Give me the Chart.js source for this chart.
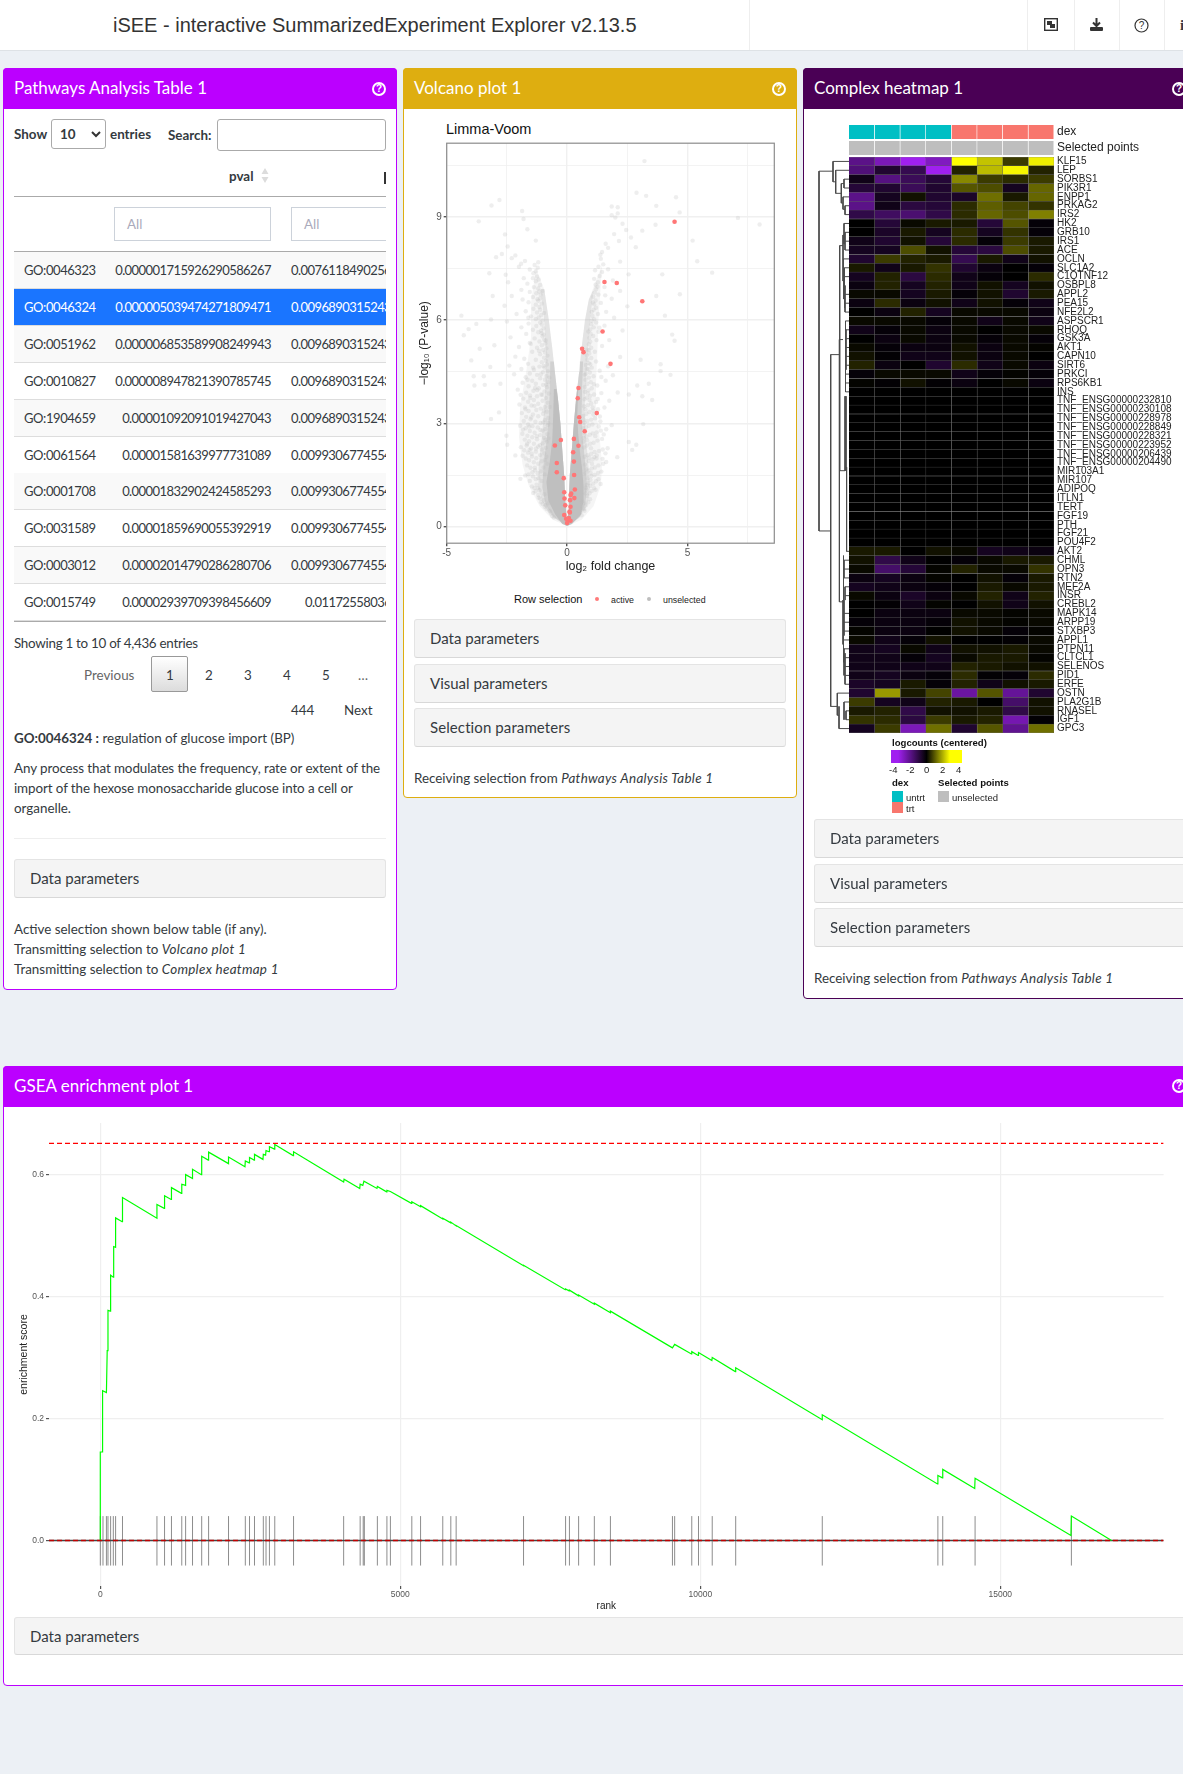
<!DOCTYPE html>
<html><head><meta charset="utf-8">
<script src="https://cdn.jsdelivr.net/npm/chart.js@4/dist/chart.umd.js"></script>
<style>
html,body{margin:0;padding:0;background:#ecf0f5;}
body{width:1183px;height:1774px;overflow:hidden;position:relative;font-family:Lato,sans-serif;font-size:13.4px;color:#343a40;}
.t{position:absolute;transform:translateY(-50%);white-space:nowrap;}
.t i{letter-spacing:.3px;}
.a{position:absolute;}
.panel{position:absolute;background:#fff;border:1px solid;border-radius:4px;box-sizing:border-box;}
.phead{position:absolute;left:-1px;right:-1px;top:-1px;height:41px;border-radius:4px 4px 0 0;color:#fff;font-size:17px;line-height:39px;padding-left:11px;}
.box{position:absolute;background:#f4f4f4;border:1px solid #e4e4e4;border-bottom:1px solid #d8d8d8;border-radius:3px;box-sizing:border-box;}
.q{position:absolute;width:14px;height:14px;border:2px solid #fff;border-radius:50%;box-sizing:border-box;color:#fff;font:bold 10px/10px "Liberation Sans";text-align:center;}
.cv{position:absolute;display:block;}
.ar{font-family:"Liberation Sans";}
.row{position:absolute;left:14px;width:372px;height:37px;overflow:hidden;border-bottom:1px solid #ddd;box-sizing:border-box;}
.num{letter-spacing:-.57px;font-size:13px;}
</style></head><body>
<div class="a" style="left:0;top:0;width:1183px;height:50px;background:#fff;border-bottom:1px solid #dee2e6;box-sizing:content-box"></div>
<div class="a" style="left:749px;top:0;width:1px;height:50px;background:#eee"></div>
<div class="a" style="left:1027px;top:0;width:1px;height:50px;background:#eee"></div>
<div class="a" style="left:1074px;top:0;width:1px;height:50px;background:#eee"></div>
<div class="a" style="left:1119px;top:0;width:1px;height:50px;background:#eee"></div>
<div class="a" style="left:1164px;top:0;width:1px;height:50px;background:#eee"></div>
<div class="t ar" style="left:113px;top:25px;font-size:20px;color:#333">iSEE - interactive SummarizedExperiment Explorer v2.13.5</div>
<svg class="a" style="left:1044px;top:18px" width="14" height="14"><rect x="0.7" y="0.7" width="12.6" height="11.6" fill="none" stroke="#333" stroke-width="1.4"/><rect x="3" y="3" width="5" height="4" fill="#333"/><rect x="6" y="6" width="5" height="4" fill="#333"/></svg>
<svg class="a" style="left:1089px;top:17px" width="15" height="15"><path d="M7.5 1v7M4 5.5l3.5 3.5 3.5-3.5" stroke="#333" stroke-width="2" fill="none"/><rect x="1" y="10" width="13" height="4" rx="1" fill="#333"/></svg>
<svg class="a" style="left:1134px;top:18px" width="15" height="15"><circle cx="7.5" cy="7.5" r="6.5" fill="none" stroke="#333" stroke-width="1.2"/><text x="7.5" y="11" font-size="10" text-anchor="middle" font-family="Liberation Sans" fill="#333">?</text></svg>
<div class="t ar" style="left:1180px;top:25px;font-size:15px;font-weight:bold;font-family:'Liberation Serif'">i</div>

<!-- Pathways panel -->
<div class="panel" style="left:3px;top:68px;width:394px;height:922px;border-color:#bb00ff"><div class="phead" style="background:#bb00ff">Pathways Analysis Table 1</div></div>
<div class="q" style="left:372px;top:82px"><span>?</span></div>
<b class="t" style="left:14px;top:134px">Show</b>
<div class="a" style="left:51px;top:119px;width:55px;height:30px;border:1px solid #aaa;border-radius:3px;box-sizing:border-box"></div>
<b class="t" style="left:60px;top:134px">10</b>
<svg class="a" style="left:91px;top:131px" width="10" height="7"><path d="M1 1l4 4 4-4" stroke="#333" stroke-width="2" fill="none"/></svg>
<b class="t" style="left:110px;top:134px">entries</b>
<b class="t" style="left:168px;top:135px">Search:</b>
<div class="a" style="left:217px;top:119px;width:169px;height:32px;border:1px solid #aaa;border-radius:3px;box-sizing:border-box;background:#fff"></div>
<b class="t" style="left:229px;top:176px">pval</b>
<svg class="a" style="left:261px;top:167px" width="8" height="17"><path d="M4 1l3.5 6h-7zM4 16l3.5-6h-7z" fill="#dcdcdc"/></svg>
<div class="a" style="left:384px;top:172px;width:2px;height:12px;background:#333"></div>
<div class="a" style="left:14px;top:196px;width:372px;height:1px;background:#aaa"></div>
<div class="a" style="left:114px;top:207px;width:157px;height:34px;border:1px solid #ccd2da;box-sizing:border-box"></div>
<div class="a" style="left:291px;top:207px;width:95px;height:34px;border:1px solid #ccd2da;border-right:0;box-sizing:border-box"></div>
<div class="t" style="left:127px;top:224px;color:#aab">All</div>
<div class="t" style="left:304px;top:224px;color:#aab">All</div>
<div class="a" style="left:14px;top:251px;width:372px;height:1px;background:#aaa"></div>
<div id="rows"></div>
<div class="a" style="left:14px;top:621px;width:372px;height:1px;background:#aaa"></div>
<div class="t" style="left:14px;top:643px;letter-spacing:-.28px">Showing 1 to 10 of 4,436 entries</div>
<div class="t" style="left:84px;top:675px;color:#666">Previous</div>
<div class="a" style="left:151px;top:656px;width:37px;height:36px;border:1px solid #999;border-radius:2px;box-sizing:border-box;background:linear-gradient(#fff,#dcdcdc)"></div>
<div class="t" style="left:166px;top:675px">1</div><div class="t" style="left:205px;top:675px">2</div><div class="t" style="left:244px;top:675px">3</div><div class="t" style="left:283px;top:675px">4</div><div class="t" style="left:322px;top:675px">5</div><div class="t" style="left:358px;top:675px;color:#666">…</div>
<div class="t" style="left:291px;top:710px">444</div><div class="t" style="left:344px;top:710px">Next</div>
<div class="t" style="left:14px;top:738px"><b>GO:0046324 :</b> regulation of glucose import (BP)</div>
<div class="t" style="left:14px;top:768px;letter-spacing:-.09px">Any process that modulates the frequency, rate or extent of the</div>
<div class="t" style="left:14px;top:788px;letter-spacing:-.09px">import of the hexose monosaccharide glucose into a cell or</div>
<div class="t" style="left:14px;top:808px">organelle.</div>
<div class="a" style="left:14px;top:838px;width:372px;height:1px;background:#eee"></div>
<div class="box" style="left:14px;top:859px;width:372px;height:39px"></div>
<div class="t" style="left:30px;top:878px;font-size:15px">Data parameters</div>
<div class="t" style="left:14px;top:929px">Active selection shown below table (if any).</div>
<div class="t" style="left:14px;top:949px">Transmitting selection to <i>Volcano plot 1</i></div>
<div class="t" style="left:14px;top:969px">Transmitting selection to <i>Complex heatmap 1</i></div>

<!-- Volcano panel -->
<div class="panel" style="left:403px;top:68px;width:394px;height:730px;border-color:#deae10"><div class="phead" style="background:#deae10">Volcano plot 1</div></div>
<div class="q" style="left:772px;top:82px"><span>?</span></div>
<div class="t ar" style="left:446px;top:129px;font-size:14.5px;color:#111">Limma-Voom</div>
<canvas id="volcano" class="cv" style="left:404px;top:132px" width="392" height="450"></canvas>
<div class="t ar" style="left:514px;top:599px;font-size:11px;color:#111">Row selection</div>
<div class="a" style="left:595px;top:597px;width:4px;height:4px;border-radius:50%;background:#ff7a7a"></div>
<div class="t ar" style="left:611px;top:600px;font-size:8.8px;color:#222">active</div>
<div class="a" style="left:647px;top:597px;width:4px;height:4px;border-radius:50%;background:#bebebe"></div>
<div class="t ar" style="left:663px;top:600px;font-size:8.8px;color:#222">unselected</div>
<div class="box" style="left:414px;top:619px;width:372px;height:39px"></div><div class="t" style="left:430px;top:638px;font-size:15px">Data parameters</div>
<div class="box" style="left:414px;top:664px;width:372px;height:39px"></div><div class="t" style="left:430px;top:683px;font-size:15px">Visual parameters</div>
<div class="box" style="left:414px;top:708px;width:372px;height:39px"></div><div class="t" style="left:430px;top:727px;font-size:15px;letter-spacing:.1px">Selection parameters</div>
<div class="t" style="left:414px;top:778px">Receiving selection from <i>Pathways Analysis Table 1</i></div>

<!-- Heatmap panel -->
<div class="panel" style="left:803px;top:68px;width:500px;height:931px;border-color:#4a0055"><div class="phead" style="background:#4a0055">Complex heatmap 1</div></div>
<div class="q" style="left:1172px;top:82px"><span>?</span></div>
<canvas id="annot" class="cv" style="left:849px;top:124px" width="334" height="32"></canvas>
<canvas id="dendro" class="cv" style="left:818px;top:157px" width="31" height="576"></canvas>
<canvas id="heat" class="cv" style="left:849px;top:152px" width="334" height="586"></canvas>
<b class="t ar" style="left:892px;top:742px;font-size:9.6px;color:#111">logcounts (centered)</b>
<div class="a" id="cbar" style="left:891px;top:750px;width:71px;height:13px;background:linear-gradient(to right,#a020f0 0,#a020f0 10%,#000 50%,#ff0 83%,#ff0 100%)"></div>
<div class="t ar" style="left:889px;top:769px;font-size:9.5px;color:#222">-4</div><div class="t ar" style="left:906px;top:769px;font-size:9.5px;color:#222">-2</div><div class="t ar" style="left:924px;top:769px;font-size:9.5px;color:#222">0</div><div class="t ar" style="left:940px;top:769px;font-size:9.5px;color:#222">2</div><div class="t ar" style="left:956px;top:769px;font-size:9.5px;color:#222">4</div>
<b class="t ar" style="left:892px;top:782px;font-size:9.6px;color:#111">dex</b>
<b class="t ar" style="left:938px;top:782px;font-size:9.6px;color:#111">Selected points</b>
<div class="a" style="left:892px;top:791px;width:11px;height:11px;background:#00bfc4"></div>
<div class="a" style="left:892px;top:802px;width:11px;height:11px;background:#f8766d"></div>
<div class="a" style="left:938px;top:791px;width:11px;height:11px;background:#bebebe"></div>
<div class="t ar" style="left:906px;top:797px;font-size:9.5px;color:#222">untrt</div>
<div class="t ar" style="left:906px;top:808px;font-size:9.5px;color:#222">trt</div>
<div class="t ar" style="left:952px;top:797px;font-size:9.5px;color:#222">unselected</div>
<div class="box" style="left:814px;top:819px;width:480px;height:39px"></div><div class="t" style="left:830px;top:838px;font-size:15px">Data parameters</div>
<div class="box" style="left:814px;top:864px;width:480px;height:39px"></div><div class="t" style="left:830px;top:883px;font-size:15px">Visual parameters</div>
<div class="box" style="left:814px;top:908px;width:480px;height:39px"></div><div class="t" style="left:830px;top:927px;font-size:15px;letter-spacing:.1px">Selection parameters</div>
<div class="t" style="left:814px;top:978px">Receiving selection from <i>Pathways Analysis Table 1</i></div>

<!-- GSEA panel -->
<div class="panel" style="left:3px;top:1066px;width:1300px;height:620px;border-color:#bb00ff"><div class="phead" style="background:#bb00ff">GSEA enrichment plot 1</div></div>
<div class="q" style="left:1172px;top:1079px"><span>?</span></div>
<canvas id="gsea" class="cv" style="left:14px;top:1112px" width="1169" height="504"></canvas>
<div class="box" style="left:14px;top:1617px;width:1280px;height:38px"></div>
<div class="t" style="left:30px;top:1636px;font-size:15px">Data parameters</div>

<script>
// ---------- table ----------
const tableIds=["GO:0046323","GO:0046324","GO:0051962","GO:0010827","GO:1904659","GO:0061564","GO:0001708","GO:0031589","GO:0003012","GO:0015749"];
const tablePval=["0.000001715926290586267","0.000005039474271809471","0.000006853589908249943","0.000008947821390785745","0.00001092091019427043","0.00001581639977731089","0.00001832902424585293","0.00001859690055392919","0.00002014790286280706","0.00002939709398456609"];
const tablePadj=["0.00761184902560","0.00968903152431","0.00968903152431","0.00968903152431","0.00968903152431","0.00993067745541","0.00993067745541","0.00993067745541","0.00993067745541","0.01172558036"];

// ---------- volcano ----------
const volcanoActive=[4.46,8.86,1.55,7.11,2.06,7.08,3.12,6.55,1.47,5.67,.62,5.17,.68,5.07,1.8,4.73,.47,4.03,.44,3.73,1.23,3.3,.5,3.18,.54,3.04,.73,2.77,.28,2.55,-.26,2.52,-.51,2.36,.47,2.35,.25,2.16,.28,1.89,-.43,1.85,-.43,1.58,.29,1.5,-.14,1.41,.32,1.08,-.12,1,.17,.96,.14,.92,-.11,.82,.3,.83,.12,.77,-.08,.62,.14,.58,.1,.44,.11,.41,-.12,.34,.07,.25,-.04,.23,.03,.2,.14,.17,0,.11];
const volcanoGreyLeft=[-.62,.31,-.71,.44,-.55,.27,-.85,.52,-.93,.58,-.74,.47,-1.02,.66,-1.08,.71,-.97,.77,-1.18,.84,-.9,.63,-1.2,.92,-1.31,1.03,-1.36,1.12,-1.15,1.06,-1.27,1.22,-1.46,1.17,-1.55,1.33,-1.3,1.38,-1.42,1.46,-1.6,1.52,-1.44,1.58,-1.22,1.55,-1.74,1.49,-1.33,1.64,-1.08,1.61,-.98,1.72,-1.52,1.71,-1.66,1.78,-1.2,1.83,-1.38,1.87,-1.05,1.9,-.92,1.94,-1.58,1.93,-1.72,1.98,-1.28,1.99,-1.85,2.06,-1.46,2.04,-1.12,2.08,-.95,2.13,-1.62,2.15,-1.3,2.18,-1.78,2.22,-1.05,2.24,-.88,2.29,-1.5,2.27,-1.2,2.33,-1.68,2.36,-1.92,2.31,-1.38,2.41,-1.02,2.42,-.84,2.47,-1.58,2.48,-1.76,2.53,-1.25,2.54,-.96,2.58,-1.45,2.6,-1.65,2.64,-1.12,2.66,-.82,2.69,-1.86,2.7,-1.35,2.73,-1.55,2.78,-1.02,2.79,-.9,2.84,-1.72,2.86,-1.22,2.88,-1.44,2.92,-1.95,2.93,-.8,2.95,-1.62,2.97,-1.1,3.01,-1.32,3.05,-1.8,3.07,-.92,3.1,-1.52,3.12,-.78,3.16,-1.7,3.19,-1.2,3.21,-1.42,3.26,-1,3.28,-1.88,3.3,-.84,3.34,-1.6,3.36,-1.28,3.39,-1.1,3.43,-1.75,3.46,-.92,3.48,-1.48,3.52,-1.98,3.55,-1.2,3.57,-.8,3.6,-1.62,3.63,-1.02,3.66,-1.38,3.68,-1.82,3.72,-.88,3.74,-1.25,3.79,-1.54,3.81,-1.08,3.84,-.76,3.87,-1.7,3.89,-.94,3.93,-1.4,3.95,-2.05,3.98,-1.18,4.02,-.84,4.05,-1.6,4.08,-1,4.12,-1.3,4.15,-1.85,4.18,-.78,4.2,-1.45,4.24,-.92,4.27,-1.12,4.31,-1.72,4.34,-.86,4.38,-1.25,4.41,-2.2,4.43,-1.55,4.45,-1,4.49,-.8,4.52,-1.38,4.56,-1.9,4.58,-.94,4.62,-1.15,4.65,-2.4,4.68,-.84,4.71,-1.62,4.73,-1.05,4.78,-.88,4.82,-1.3,4.85,-1.78,4.88,-.96,4.91,-2.15,4.94,-.82,4.97,-1.12,5.01,-.92,5.06,-1.45,5.08,-1,5.13,-.86,5.18,-1.25,5.2,-2,5.22,-1.05,5.27,-.9,5.32,-1.55,5.34,-1.15,5.38,-.95,5.43,-1.35,5.47,-2.35,5.5,-1.02,5.53,-.98,5.58,-1.7,5.6,-1.2,5.65,-1.08,5.69,-1.42,5.72,-.98,5.76,-1.9,5.79,-1.28,5.83,-1.05,5.87,-1.6,5.9,-1.12,5.93,-2.5,5.96,-1.02,5.99,-1.3,6.03,-1.18,6.08,-1.5,6.11,-1.08,6.15,-2.1,6.18,-1.25,6.22,-1.72,6.26,-1.12,6.3,-1.4,6.33,-1.15,6.38,-2.6,6.42,-1.3,6.45,-1.05,6.48,-1.6,6.52,-1.2,6.56,-1.85,6.6,-1.12,6.63,-1.42,6.67,-2.3,6.7,-1.1,6.74,-1.28,6.78,-1.55,6.82,-1.02,6.85,-1.9,6.88,-1.2,6.92,-1.38,6.96,-1.12,7.02,-1.65,7.06,-2.45,7.1,-1.3,7.13,-1.18,7.18,-1.8,7.22,-1.25,7.27,-2.55,7.32,-1.4,7.36,-1.3,7.42,-1.55,7.47,-1.22,7.52,-2,7.55,-1.35,7.6,-1.2,7.68,-1.75,7.72,-2.3,7.8];
const volcanoGreyRight=[.6,.33,.72,.46,.66,.55,.78,.62,.88,.71,.95,.8,.7,.68,.84,.89,.93,.97,1.02,1.04,1.12,1.12,.8,1.08,.96,1.18,1.08,1.25,1.2,1.32,1.3,1.38,.85,1.41,1,1.47,1.14,1.5,1.28,1.56,1.42,1.6,.76,1.55,.88,1.63,1.02,1.69,1.15,1.72,1.3,1.78,1.5,1.83,1.62,1.88,.74,1.8,.9,1.91,1.06,1.95,1.22,1.98,.72,2.03,.85,2.08,1,2.12,1.14,2.17,1.32,2.2,1.48,2.24,1.68,2.28,.7,2.3,.82,2.36,.96,2.41,1.1,2.44,1.26,2.5,1.45,2.55,.68,2.58,.8,2.62,.94,2.67,1.06,2.71,1.22,2.74,1.4,2.79,1.62,2.83,.66,2.86,.78,2.89,.9,2.93,1.05,2.97,1.85,2.95,.72,3.02,.84,3.07,1,3.11,1.16,3.15,1.36,3.2,.68,3.22,.8,3.28,.92,3.33,1.08,3.37,1.28,3.41,1.55,3.46,.7,3.5,.86,3.53,1,3.58,1.2,3.62,1.75,3.66,.72,3.7,.82,3.75,.96,3.8,1.12,3.84,1.42,3.88,.74,3.92,.88,3.96,2.1,3.9,1.02,4.02,.74,4.06,1.25,4.1,.84,4.15,.98,4.2,1.6,4.24,.76,4.27,.9,4.33,1.1,4.37,1.9,4.4,.78,4.44,.94,4.48,1.35,4.53,.82,4.58,1.02,4.62,1.7,4.66,.78,4.7,.9,4.75,1.2,4.8,.84,4.85,1,4.9,2.2,4.93,.82,4.97,.92,5.03,1.15,5.08,.84,5.14,1,5.2,1.45,5.25,.9,5.3,.96,5.37,1.75,5.42,.92,5.48,1.08,5.54,.98,5.6,1.3,5.66,2.3,5.7,.96,5.73,1.1,5.79,1.55,5.84,1,5.88,1.2,5.93,1.02,5.98,1.12,6.03,1.95,6.07,1.05,6.12,1.28,6.18,1.62,6.24,1.1,6.3,1.2,6.36,2.5,6.4,1.12,6.46,1.4,6.5,1.18,6.57,1.85,6.62,1.08,6.68,1.3,6.74,1.15,6.8,2.2,6.85,1.2,6.9,1.55,6.96,1.18,7.03,1.28,7.1,1.9,7.15,1.12,7.2,1.35,7.28,2.55,7.33,1.45,7.4,1.7,7.48,1.3,7.55,1.5,7.62,2.2,7.7,1.4,7.78,1.38,7.9,1.45,7.98,1.7,8.1,2.85,8.12,1.6,8.22,2.15,8.3,2.65,8.4,1.95,8.5,2.45,8.62,2.3,8.8,2,8.98,2.1,9.1,1.85,9.05,2.1,9.28,1.85,9.3];
const volcanoGreyOuter=[3.21,10.62,2.88,9.7,3.28,9.61,4.52,9.57,3.7,9.32,4.67,9.13,7.09,8.97,7.99,8.78,3.67,8.77,3.12,8.6,5.21,8.31,5.4,7.71,6.02,7.38,-3.14,9.33,-2.81,9.49,-3.67,8.87,-1.87,9.17,-1.81,8.94,-2.58,8.49,-1.65,8.64,-1.3,8.31,-2.47,8.14,-2.95,7.83,-2.15,7.88,-2.71,7.92,-3.23,7.36,-1.91,7.64,-4.39,6.13,-4.29,5.56,-4.09,5.74,-3.77,5.89,-3.63,5.17,-3.98,4.83,-3.88,4.37,-3.85,4.1,-3.46,4.37,-3.42,4.12,-3.19,4.64,-3.16,6.02,-3.09,6.7,-3.02,5.27,-3.16,3.13,-2.83,3.32,-2.77,4.15,-2.52,2.64,-2.49,2.38,-2.15,2.07,-1.94,1.39,4.68,6.75,4.06,6.13,3.7,6.7,3.95,7.33,4.36,5.58,4.46,5.4,4.29,4.41,3.88,4.52,3.88,4.72,3.05,4.85,2.91,4.1,3.12,3.79,3.53,3.68,3.39,4.15,2.56,3.84,3.16,2.98,2.56,2.46,2.7,2.23,2.87,2.38,2.08,2.02,1.39,1.24];
const volcanoGreyExtra=[-1.13,2.37,-1.57,2.91,-.97,3.37,-1.34,1.71,-.86,2.03,-1.73,3.41,-1.09,4.43,-1.49,3.17,-.74,4.33,-1.26,2.63,-.93,1.52,-1.66,2.41,-1.03,3.83,-1.41,4.62,-.89,5.41,-1.19,1.41,-1.53,3.74,-.79,3.02,-1.11,2.81,-1.83,2.82,-.98,4.67,-1.36,3.51,-.83,1.83,-1.24,3.97,-1.06,1.33,-1.64,4.27,-.91,2.52,-1.47,2.12,-.77,2.57,-1.17,5.11,-1.33,4.03,-.96,6.21,-1.06,5.62,-1.51,5.31,-.87,4.13,-1.23,6.61,-1.42,7.22,-1.16,6.83,-1.61,6.07,-.99,3.03,-1.29,2.27,-.72,3.48,-1.93,3.83,-1.56,2.23,-1.21,1.12,-.94,.94,-.79,.68,-1.41,.98,-1.12,.82,-.67,.38,.89,1.27,1.17,2.63,.76,3.41,1.03,1.83,.67,2.47,1.31,2.91,.93,3.68,1.47,1.97,.81,1.21,1.09,3.26,.73,2.71,1.23,2.07,.87,4.58,1.38,3.06,.99,2.28,.69,3.11,1.52,2.68,.79,1.67,1.11,4.14,.83,2.51,1.27,3.71,.91,5.13,.97,1.36,1.18,1.07,1.59,2.13,.75,.97,1.06,3.46,.86,3.87,1.42,4.35,.96,4.72,1.13,2.02,.73,4.41,1.22,5.42,.88,5.67,1.02,6.24,1.34,5.78,1.07,6.51,1.26,6.97,1.16,7.45,1.58,6.72,.92,2.01,.78,1.13,.62,.74,.98,1.56,.71,.51];
// outlines of the regions where points overlap into a solid mass
const coreLeft=[0,.02,-.04,.4,-.08,.8,-.125,1.5,-.2,2.2,-.28,3,-.38,3.7,-.44,4,-.55,4,-.58,3.2,-.62,2.5,-.72,1.9,-.86,1.3,-.78,.75,-.5,.36,-.2,.08,0,.02];
const coreRight=[0,.02,.04,.4,.07,.8,.11,1.5,.19,2.2,.28,3,.37,3.7,.41,4,.46,4,.42,3.2,.46,2.7,.53,2.2,.62,1.7,.68,1.2,.68,.75,.58,.36,.2,.08,0,.02];
const denseLeft=[0,.02,-.04,.4,-.08,.8,-.125,1.5,-.2,2.2,-.28,3,-.38,3.7,-.51,4.5,-.55,4.8,-.7,4.8,-.72,4,-.76,3.2,-.85,2.5,-.98,1.8,-1.03,1.15,-.9,.65,-.55,.28,0,.02];
const denseRight=[0,.02,.04,.4,.07,.8,.11,1.5,.19,2.2,.28,3,.37,3.7,.5,4.5,.53,4.8,.66,4.8,.62,4,.6,3.3,.64,2.6,.74,1.9,.82,1.2,.76,.68,.52,.28,0,.02];
const midLeft=[0,.02,-.04,.4,-.08,.8,-.125,1.5,-.2,2.2,-.28,3,-.38,3.7,-.51,4.5,-.62,5.2,-.76,6,-.95,6.9,-1.1,6.9,-.95,6,-.88,5,-.9,4.2,-.95,3.4,-1.05,2.6,-1.18,1.8,-1.2,1.1,-.95,.6,-.55,.25,0,.02];
const midRight=[0,.02,.04,.4,.07,.8,.11,1.5,.19,2.2,.28,3,.37,3.7,.5,4.5,.6,5.2,.74,6,.9,6.6,1.1,6.9,.95,6,.85,5,.78,4.2,.72,3.4,.78,2.6,.88,1.8,.95,1.1,.82,.6,.5,.25,0,.02];
const haloLeft=[0,.02,-.04,.4,-.08,.8,-.125,1.5,-.2,2.2,-.28,3,-.38,3.7,-.51,4.5,-.62,5.2,-.76,6,-.95,6.9,-1.3,7.5,-1.5,6.5,-1.5,5.5,-1.7,4.5,-1.95,3.5,-2,2.6,-1.85,1.8,-1.6,1.2,-1.15,.6,-.6,.2,0,.02];
const haloRight=[0,.02,.04,.4,.07,.8,.11,1.5,.19,2.2,.28,3,.37,3.7,.5,4.5,.6,5.2,.74,6,.9,6.6,1.45,7.6,1.3,6,1.25,5,1.2,4.2,1.2,3.4,1.35,2.6,1.45,1.8,1.4,1.2,1.1,.6,.6,.2,0,.02];

// ---------- heatmap ----------
const heatLabels=["KLF15","LEP","SORBS1","PIK3R1","ENPP1","PRKAG2","IRS2","HK2","GRB10","IRS1","ACE","OCLN","SLC1A2","C1QTNF12","OSBPL8","APPL2","PEA15","NFE2L2","ASPSCR1","RHOQ","GSK3A","AKT1","CAPN10","SIRT6","PRKCI","RPS6KB1","INS","TNF_ENSG00000232810","TNF_ENSG00000230108","TNF_ENSG00000228978","TNF_ENSG00000228849","TNF_ENSG00000228321","TNF_ENSG00000223952","TNF_ENSG00000206439","TNF_ENSG00000204490","MIR103A1","MIR107","ADIPOQ","ITLN1","TERT","FGF19","PTH","FGF21","POU4F2","AKT2","CHML","OPN3","RTN2","MEF2A","INSR","CREBL2","MAPK14","ARPP19","STXBP3","APPL1","PTPN11","CLTCL1","SELENOS","PID1","ERFE","OSTN","PLA2G1B","RNASEL","IGF1","GPC3"];
const heatValuesTop=[[-1.7,-2.3,-3,-2.4,3,2.3,.7,2.8],[-1.5,-.6,-1,-3,.4,2.2,2.9,.4],[-.3,-1.6,-1.1,-.7,1.6,.7,.5,.7],[-.7,-.6,-1.1,-.6,1,.9,-.4,1.2],[-1.7,-.4,.2,-.6,-.5,1.3,.3,1.2],[-1.7,-.3,-.8,-.7,.5,1.1,.8,.6],[-.9,-1.2,-1.4,-.9,.5,1.2,.9,1.5],[0,-.7,.1,.3,.3,-.7,1,-.1],[0,-.5,.3,-.4,.5,-.4,.6,-.1],[-.3,-.6,.2,-.7,.5,-.1,.7,.3],[-.4,-.4,.9,.2,-.7,-.8,.9,.3],[-.6,.7,.4,.3,-1,.3,-.3,.2],[.3,-.3,.3,.6,-.6,-.2,0,-.1],[-.4,.4,-.8,.5,-.3,-.1,0,.5],[-.2,.4,-.4,.4,-.3,.2,-.4,.2],[.1,.1,-.4,.3,-.1,.2,-.6,.3],[-.2,.5,-.2,.2,-.3,.2,-.1,-.3],[0,-.2,.4,-.4,.1,.1,.1,-.2],[.1,.1,.1,-.1,.1,-.3,.1,-.3],[-.3,-.1,.1,-.2,.1,0,.1,.1],[0,-.2,.1,-.2,.1,-.1,.1,-.1],[.1,-.1,-.2,-.2,.2,-.2,.1,.05],[.2,-.05,-.3,-.3,.2,-.2,.1,0],[.4,-.2,0,-.6,.5,-.3,.1,-.2],[-.1,.1,.1,.1,-.3,-.1,.05,-.1],[.05,-.05,.2,-.05,-.2,0,.1,-.2]];
const heatValuesFlat=[[0,0,0,0,0,0,0,0],[0,0,0,0,0,0,0,0],[0,0,0,0,0,0,0,0],[0,0,0,0,0,0,0,0],[0,0,0,0,0,0,0,0],[0,0,0,0,0,0,0,0],[0,0,0,0,0,0,0,0],[0,0,0,0,0,0,0,0],[0,0,0,0,0,0,0,0],[0,0,0,0,0,0,0,0],[0,0,0,0,0,0,0,0],[0,0,0,0,0,0,0,0],[0,0,0,0,0,0,0,0],[0,0,0,0,0,0,0,0],[0,0,0,0,0,0,0,0],[0,0,0,0,0,0,0,0],[0,0,0,0,0,0,0,0],[0,0,0,0,0,0,0,0]];
const heatValuesBottom=[[.3,.3,0,.2,.1,-.4,-.3,-.2],[.2,-.9,-.3,0,-.1,.1,.3,.3],[.1,-1.3,-.7,.05,.4,.1,.1,.6],[-.2,-.4,-.2,.05,0,.2,-.1,.3],[-.4,-.3,-.2,-.1,0,.3,.1,.3],[.1,-.2,-.5,-.2,.1,.4,-.3,.4],[0,-.05,-.3,.05,0,.2,-.3,.2],[0,-.2,-.2,-.2,.1,.1,.05,.1],[-.1,-.2,-.2,-.1,.2,.1,.05,.1],[.05,-.2,-.2,0,.2,.1,-.1,.05],[.1,-.3,-.1,.2,0,0,-.05,.1],[-.3,-.4,.1,-.3,.2,.2,.3,.1],[-.3,-.3,-.1,-.4,.1,.3,.3,.05],[-.3,-.3,-.3,-.3,.4,.3,.2,.2],[-.3,-.4,-.2,-.1,.5,-.05,-.1,.5],[-.5,-.4,.3,-.1,.4,-.3,.2,.3],[-.6,1.8,.3,.8,-2,1,-1.9,-.6],[.7,-.4,-.3,.4,.3,0,-1.3,.2],[.3,.4,-.9,.2,.2,.3,-.9,.2],[.6,.5,-.8,.7,.3,.4,-2.2,-.05],[-.4,.7,-2.3,1.3,-.6,1,-1.8,1.3]];
const annotLabels=["dex","Selected points"];
const dexColors=["#00bfc4","#00bfc4","#00bfc4","#00bfc4","#f8766d","#f8766d","#f8766d","#f8766d"];
// dendrogram: vertical [height,row1,row2], horizontal [row,height1,height2]
const dendroV=[[30,1.6,42.2],[16,.5,2.8],[13.3,1.5,4.1],[7.7,3,5.2],[5,2.5,3.5],[6,4.5,5.9],[4,5.5,6.5],[18.3,22.3,62],[9.3,10,35.4],[9.6,20.6,50.2],[6,8.8,14],[5,7.5,9.8],[4,8.5,10.5],[5.5,11.5,16],[4.5,12.5,17],[4,14.5,17.5],[3.5,18.5,26.5],[3,19.5,24],[4,27,35.4],[3,27,35.4],[2.4,35,44.5],[5.5,45,57],[5,45.5,47.5],[4,48.5,50],[6,50,55],[5,50,54],[5,55.5,58.5],[4,56,59.5],[11.7,60.5,63],[10,62,64.5],[5,61.5,63.5],[3,62.5,63.5]];
const dendroH=[[1.6,30,16],[42.2,30,18.3],[.5,16,0],[2.8,16,13.3],[1.5,13.3,0],[4.1,13.3,7.7],[3,7.7,5],[5.2,7.7,6],[2.5,5,0],[3.5,5,0],[4.5,6,0],[5.9,6,4],[5.5,4,0],[6.5,4,0],[22.3,18.3,9.3],[62,18.3,11.7],[10,9.3,6],[35.4,9.3,4],[8.8,6,5],[14,6,5.5],[7.5,5,0],[9.8,5,4],[8.5,4,0],[9.5,4,0],[10.5,4,0],[11.5,5.5,0],[16,5.5,4.5],[12.5,4.5,0],[13.5,4.5,0],[15.5,4,0],[16.5,4,0],[17.5,4,0],[18.5,3.5,0],[19.5,3,0],[20.5,3,0],[21.5,3,0],[22.5,3,0],[23.5,3,0],[24.5,3.5,0],[25.5,3.5,0],[26.5,3.5,0],[50.2,9.6,6],[20.6,9.6,6],[45,5.5,5],[57,5.5,5],[45.5,5,0],[46.5,5,0],[47.5,5,0],[48.5,4,0],[49.5,4,0],[51.5,5,0],[52.5,5,0],[53.5,5,0],[54.5,5,0],[55.5,5,0],[56.5,4,0],[57.5,4,0],[58.5,4,0],[59.5,4,0],[60.5,11.7,0],[63,11.7,10],[64.5,10,0],[61.5,5,0],[63.5,3,0],[62.5,3,0],[44.5,2.4,0]];

// ---------- GSEA ----------
const gseaRank=[0,0,38,38,102,115,128,166,172,217,223,255,255,364,370,944,944,1065,1071,1180,1186,1352,1358,1422,1422,1537,1537,1684,1690,1799,1805,2137,2137,2411,2417,2481,2487,2564,2570,2711,2717,2755,2762,2813,2819,2902,2908,3214,3221,4056,4063,4324,4331,4375,4394,4611,4618,4771,4777,4835,5185,5192,5338,5338,5708,5708,5842,5842,5931,5931,7054,7054,7749,7755,7813,7819,7972,7972,8234,8234,8502,8502,9536,9573,9852,9858,9964,9970,10193,10199,10583,10590,12033,12033,13954,13960,14035,14041,14574,14580,16178,16185,16854];
const gseaScore=[0,.145,.145,.2455,.2424,.311,.377,.3758,.4346,.4315,.4816,.4804,.5286,.5223,.5618,.528,.5505,.5442,.5649,.5587,.5781,.5687,.5837,.5818,.5994,.5931,.6081,.5994,.6294,.6232,.6363,.6175,.6282,.6125,.6219,.6188,.6275,.6232,.6326,.6244,.6326,.6313,.6388,.6369,.6451,.6413,.6488,.6307,.6369,.5875,.5918,.5768,.5837,.5818,.5887,.5768,.58,.5712,.5737,.5718,.5524,.5549,.5468,.5486,.5267,.528,.5204,.5217,.5154,.5161,.4503,.4509,.4108,.4121,.409,.4102,.4008,.4021,.3871,.3889,.3733,.3758,.3157,.3213,.3056,.3094,.3031,.3081,.295,.3,.2768,.2831,.1979,.206,.0927,.1065,.1027,.1165,.0852,.1021,.0081,.0401,0];
const gseaHits=[0,45,102,128,172,217,255,370,944,1071,1186,1358,1422,1537,1690,1805,2137,2417,2487,2570,2717,2762,2819,2908,3221,4056,4331,4382,4401,4618,4777,4835,5192,5338,5708,5842,5931,7054,7755,7819,7972,8234,8502,9536,9573,9858,9970,10199,10590,12033,13960,14041,14580,16185];
const gseaPeak=.6505, gseaBase=0;
const gseaXTicks=[0,5000,10000,15000];

// ---------- build table ----------
(function(){let h='';tableIds.forEach((id,i)=>{const top=252+i*36.9;const sel=i===1;const bg=sel?'#1a75ff':(i%2===0?'#f9f9f9':'#fff');const c=sel?'#fff':'#343a40';
h+=`<div class="row" style="top:${top}px;background:${bg};color:${c}"><div class="t num" style="left:10px;top:18px;letter-spacing:-.42px">${id}</div><div class="t num" style="right:115px;top:18px">${tablePval[i]}</div><div class="t num" style="left:${i===9?291:277}px;top:18px">${tablePadj[i]}</div></div>`;});
document.getElementById('rows').innerHTML=h;})();

// ---------- helpers ----------
Chart.defaults.animation=false;
Chart.defaults.responsive=false;
Chart.defaults.plugins.legend.display=false;
Chart.defaults.plugins.tooltip.enabled=false;
const pairs=a=>{const r=[];for(let i=0;i<a.length;i+=2)r.push({x:a[i],y:a[i+1]});return r;};
const framePlugin={id:'frame',afterDatasetsDraw(c){const a=c.chartArea,g=c.ctx;g.save();g.strokeStyle='#8c8c8c';g.lineWidth=1.2;g.strokeRect(a.left,a.top,a.right-a.left,a.bottom-a.top);g.restore();}};
const region=(a,alpha)=>({type:'scatter',data:pairs(a),showLine:true,fill:'shape',backgroundColor:`rgba(190,190,190,${alpha})`,borderWidth:0,pointRadius:0});
const AX="'Liberation Sans'";

// ---------- volcano chart ----------
new Chart(document.getElementById('volcano'),{type:'scatter',plugins:[framePlugin],data:{datasets:[
 {label:'active',data:pairs(volcanoActive),pointRadius:2.3,backgroundColor:'#ff7676',borderWidth:0},
 {label:'unselected',data:pairs(volcanoGreyLeft.concat(volcanoGreyRight,volcanoGreyOuter,volcanoGreyExtra)),pointRadius:2.2,backgroundColor:'rgba(190,190,190,.26)',borderWidth:0},
 region(coreLeft,.9),region(coreRight,.9),region(denseLeft,.5),region(denseRight,.5),region(midLeft,.32),region(midRight,.32),region(haloLeft,.16),region(haloRight,.16)
]},options:{layout:{padding:{left:0,right:21.7,top:11.2,bottom:0}},scales:{
 x:{type:'linear',min:-5,max:8.6,border:{display:false},
  title:{display:true,text:'log₂ fold change',font:{family:AX,size:12.5},color:'#222',padding:{top:0,bottom:8}},
  afterFit:s=>{s.height=38.8},
  ticks:{stepSize:2.5,includeBounds:false,maxRotation:0,autoSkip:false,padding:1,font:{family:AX,size:10},color:'#555',callback:v=>(v%5===0?String(v):'')},
  grid:{color:'#f0f0f0',lineWidth:c=>(c.tick&&c.tick.value%5===0?1.4:.8),tickLength:3,tickColor:c=>(c.tick&&c.tick.value%5===0?'#555':'rgba(0,0,0,0)')}},
 y:{type:'linear',min:-.48,max:11.14,border:{display:false},
  title:{display:true,text:'−log₁₀ (P-value)',font:{family:AX,size:12},color:'#222',padding:{top:13,bottom:0}},
  afterFit:s=>{s.width=42.7},
  ticks:{stepSize:1.5,includeBounds:false,autoSkip:false,padding:2,font:{family:AX,size:10},color:'#555',callback:v=>(Math.abs(v%3)<1e-6?String(v):'')},
  grid:{color:'#f0f0f0',lineWidth:c=>(c.tick&&Math.abs(c.tick.value%3)<1e-6?1.4:.8),tickLength:3,tickColor:c=>(c.tick&&Math.abs(c.tick.value%3)<1e-6?'#555':'rgba(0,0,0,0)')}}
}}});

// ---------- heatmap charts ----------
const heatValues=heatValuesTop.concat(heatValuesFlat,heatValuesBottom);
const heatColor=v=>{const t=Math.min(1,Math.abs(v)/3);return v<0?`rgb(${Math.round(160*t)},${Math.round(32*t)},${Math.round(240*t)})`:`rgb(${Math.round(255*t)},${Math.round(255*t)},0)`;};
const sampleNames=["s1","s2","s3","s4","s5","s6","s7","s8"];
const barScales=(w,font)=>({x:{display:false,stacked:true,min:0,max:8},y:{stacked:true,position:'right',border:{display:false},grid:{display:false,drawTicks:false,tickLength:0},afterFit:s=>{s.width=w;s.paddingTop=0;s.paddingBottom=0},ticks:{autoSkip:false,padding:3,color:'#222',font:{family:AX,size:font}}}});
new Chart(document.getElementById('heat'),{type:'bar',data:{labels:heatLabels,datasets:sampleNames.map((n,j)=>({label:n,data:heatLabels.map(()=>1),backgroundColor:heatValues.map(r=>heatColor(r[j])),borderColor:'#5e5e5e',borderWidth:.5,barPercentage:1,categoryPercentage:1}))},options:{indexAxis:'y',layout:{padding:{top:5,bottom:5}},scales:barScales(129,10)}});
new Chart(document.getElementById('annot'),{type:'bar',data:{labels:annotLabels,datasets:sampleNames.map((n,j)=>({label:n,data:[1,1],backgroundColor:[dexColors[j],'#bebebe'],borderColor:'rgba(255,255,255,.35)',borderWidth:.5,barPercentage:.93,categoryPercentage:1}))},options:{indexAxis:'y',scales:barScales(129,12)}});
const dendroPts=[];
dendroV.forEach(s=>dendroPts.push({x:s[0],y:s[1]},{x:s[0],y:s[2]},{x:null,y:null}));
dendroH.forEach(s=>dendroPts.push({x:s[1],y:s[0]},{x:s[2],y:s[0]},{x:null,y:null}));
new Chart(document.getElementById('dendro'),{type:'scatter',data:{datasets:[{data:dendroPts,showLine:true,pointRadius:0,borderColor:'#4a4a4a',borderWidth:1,spanGaps:false}]},options:{scales:{x:{display:false,type:'linear',min:0,max:31,reverse:true},y:{display:false,type:'linear',min:0,max:65,reverse:true}}}});

// ---------- GSEA chart ----------
const gX=[-855,17722];
const curve=gseaRank.map((r,i)=>({x:r,y:gseaScore[i]}));
const rug=[];gseaHits.forEach(r=>rug.push({x:r,y:-.041},{x:r,y:.04},{x:null,y:null}));
const hline=v=>gX.map(x=>({x:x,y:v}));
new Chart(document.getElementById('gsea'),{type:'scatter',data:{datasets:[
 {label:'peak',data:hline(gseaPeak),showLine:true,pointRadius:0,borderColor:'#f00',borderWidth:1.3,borderDash:[5,3]},
 {label:'base dashed',data:hline(gseaBase),showLine:true,pointRadius:0,borderColor:'#c00000',borderWidth:1.3,borderDash:[5,3]},
 {label:'enrichment',data:curve,showLine:true,pointRadius:0,borderColor:'#00ff00',borderWidth:1.2,tension:0},
 {label:'base',data:hline(gseaBase),showLine:true,pointRadius:0,borderColor:'#444',borderWidth:1.6},
 {label:'hits',data:rug,showLine:true,pointRadius:0,borderColor:'rgba(0,0,0,.45)',borderWidth:1,spanGaps:false}
]},options:{layout:{padding:{left:0,right:19.4,top:11,bottom:0}},scales:{
 x:{type:'linear',min:gX[0],max:gX[1],border:{display:false},afterFit:s=>{s.height=30},
  title:{display:true,text:'rank',font:{family:AX,size:10},color:'#222',padding:{top:0,bottom:4}},
  afterBuildTicks:s=>{s.ticks=gseaXTicks.map(v=>({value:v}))},
  ticks:{maxRotation:0,autoSkip:false,padding:1,font:{family:AX,size:8.5},color:'#555',callback:v=>String(v)},
  grid:{color:'#efefef',lineWidth:1.2,tickLength:3,tickColor:'#555'}},
 y:{type:'linear',min:-.0745,max:.684,border:{display:false},afterFit:s=>{s.width=35},
  title:{display:true,text:'enrichment score',font:{family:AX,size:10.5},color:'#222',padding:{top:4,bottom:0}},
  ticks:{stepSize:.2,includeBounds:false,padding:2,font:{family:AX,size:8.5},color:'#555',callback:v=>Number(v).toFixed(1)},
  grid:{color:'#efefef',lineWidth:1.2,tickLength:3,tickColor:'#555'}}
}}});
</script>
</body></html>
